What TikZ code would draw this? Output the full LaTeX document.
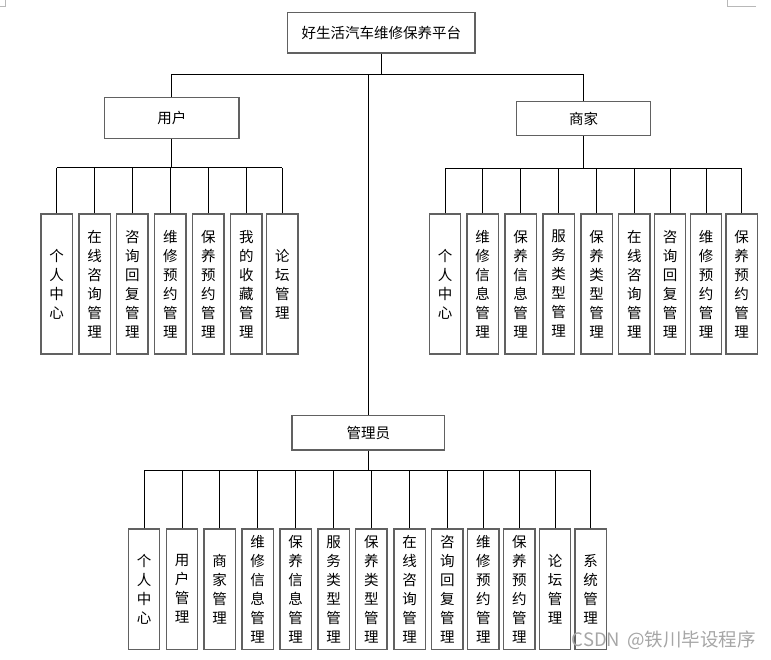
\documentclass[tikz,border=0pt]{standalone}
\usepackage{fontspec}
\newfontfamily\cjk{Noto Sans CJK SC}
\begin{document}
\begin{tikzpicture}[x=1pt,y=-1pt,
  box/.style={draw=black!62,line width=1.3pt,fill=white,inner sep=0pt,
    font=\cjk\fontsize{14.5}{19}\selectfont,align=center},
  vbox/.style={box,minimum width=31.3pt,minimum height=139.7pt},
  abox/.style={box,minimum width=31.3pt,minimum height=120.3pt},
  conn/.style={draw=black,line width=0.9pt},
  cornermark/.style={draw=black!28,line width=0.8pt}]
\useasboundingbox (0,0) rectangle (771,660);
% corner marks
\draw[cornermark] (0,6.3) -- (5.5,6.3) -- (5.5,0);
\draw[cornermark] (756,6.3) -- (727,6.3) -- (727,0);
% level 1/2
\node[box,minimum width=187.3pt,minimum height=40.7pt] (root) at (381.3,32.7) {好生活汽车维修保养平台};
\node[box,minimum width=134.3pt,minimum height=40.6pt] (user) at (171.8,118) {用户};
\node[box,minimum width=134.4pt,minimum height=34.4pt] (merch) at (583.5,118.5) {商家};
\node[box,minimum width=152.7pt,minimum height=34.7pt] (admin) at (368.3,432.7) {管理员};
\coordinate (rb) at (381.3,74);
\draw[conn] (root.south) -- (rb);
\draw[conn] (user.north) -- (user.north |- rb) -- (merch.north |- rb) -- (merch.north);
\draw[conn] (admin.north) -- (admin.north |- rb);
% user children
\foreach \i/\x/\t in {1/56.7/个\\人\\中\\心, 2/94.7/在\\线\\咨\\询\\管\\理, 3/132.3/咨\\询\\回\\复\\管\\理,
  4/170.3/维\\修\\预\\约\\管\\理, 5/208.3/保\\养\\预\\约\\管\\理, 6/246.3/我\\的\\收\\藏\\管\\理, 7/282.3/论\\坛\\管\\理}
  \node[vbox] (u\i) at (\x,284) {\t};
\coordinate (ub) at (171.8,167.7);
\draw[conn] (user.south) -- (ub);
\draw[conn] (u1.north |- ub) -- (u7.north |- ub);
\foreach \i in {1,...,7} \draw[conn] (u\i.north) -- (u\i.north |- ub);
% merchant children
\foreach \i/\x/\t in {1/445/个\\人\\中\\心, 2/482.7/维\\修\\信\\息\\管\\理, 3/520.7/保\\养\\信\\息\\管\\理,
  4/558.7/服\\务\\类\\型\\管\\理, 5/596.7/保\\养\\类\\型\\管\\理, 6/634.3/在\\线\\咨\\询\\管\\理,
  7/670/咨\\询\\回\\复\\管\\理, 8/706/维\\修\\预\\约\\管\\理, 9/741.7/保\\养\\预\\约\\管\\理}
  \node[vbox] (m\i) at (\x,284) {\t};
\coordinate (mb) at (583.5,168.7);
\draw[conn] (merch.south) -- (mb);
\draw[conn] (m1.north |- mb) -- (m9.north |- mb);
\foreach \i in {1,...,9} \draw[conn] (m\i.north) -- (m\i.north |- mb);
% admin children
\foreach \i/\x/\t in {1/144/个\\人\\中\\心, 2/182/用\\户\\管\\理, 3/219.7/商\\家\\管\\理,
  4/257.7/维\\修\\信\\息\\管\\理, 5/295.7/保\\养\\信\\息\\管\\理, 6/333.7/服\\务\\类\\型\\管\\理,
  7/371.3/保\\养\\类\\型\\管\\理, 8/409.5/在\\线\\咨\\询\\管\\理, 9/447.3/咨\\询\\回\\复\\管\\理,
  10/483.3/维\\修\\预\\约\\管\\理, 11/519.3/保\\养\\预\\约\\管\\理, 12/555/论\\坛\\管\\理, 13/590.7/系\\统\\管\\理}
  \node[abox] (a\i) at (\x,589.2) {\t};
\coordinate (ab) at (368.3,470.3);
\draw[conn] (admin.south) -- (ab);
\draw[conn] (a1.north |- ab) -- (a13.north |- ab);
\foreach \i in {1,...,13} \draw[conn] (a\i.north) -- (a\i.north |- ab);
% watermark
\node[font=\cjk\fontsize{18.5}{20}\selectfont,text=black!35,inner sep=0pt,anchor=east] (wm) at (756,640.5) {CSDN\hspace{7pt}@铁川毕设程序};
\end{tikzpicture}
\end{document}
